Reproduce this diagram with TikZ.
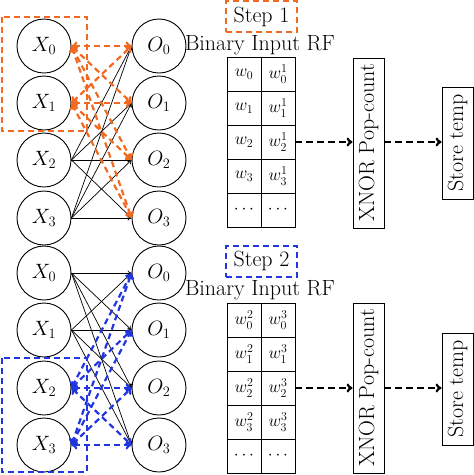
\documentclass[tikz,border=0pt]{standalone}
\usetikzlibrary{arrows.meta}
\definecolor{myorange}{HTML}{F26A21}
\definecolor{myblue}{HTML}{2236E0}
\begin{document}
\begin{tikzpicture}[x=1pt,y=-1pt,
  every node/.style={font=\fontsize{22}{26}\selectfont},
  neuron/.style={draw,circle,line width=0.9pt,minimum size=54pt,inner sep=0pt},
  cell/.style={draw,line width=0.9pt,minimum width=34pt,minimum height=34pt,inner sep=0pt,outer sep=0pt,font=\fontsize{18}{20}\selectfont},
  vbox/.style={draw,line width=0.9pt,rotate=90,minimum height=31pt,inner sep=1pt},
  solidcon/.style={line width=0.7pt,-{To[length=4pt,width=5pt]}},
  odash/.style={myorange,line width=2.2pt,dash pattern=on 6pt off 4pt,{To[length=6pt,width=9pt]}-{To[length=6pt,width=9pt]}},
  bdash/.style={myblue,line width=2.2pt,dash pattern=on 6pt off 4pt,{To[length=6pt,width=9pt]}-{To[length=6pt,width=9pt]}},
  blackdash/.style={line width=2.2pt,dash pattern=on 7pt off 4pt,-{To[length=6pt,width=9pt]}},
  stepbox/.style={draw,line width=2pt,dash pattern=on 6pt off 4pt,minimum width=71pt,minimum height=31pt,inner sep=0pt}
]
\useasboundingbox (0,0) rectangle (474,475);
% ---- neurons ----
\foreach \i/\y in {0/46,1/103,2/160,3/218}{
  \node[neuron] (xa\i) at (44,\y) {$X_\i$};
  \node[neuron] (oa\i) at (159,\y) {$O_\i$};
}
\foreach \i/\y in {0/273,1/330,2/388,3/445}{
  \node[neuron] (xb\i) at (44,\y) {$X_\i$};
  \node[neuron] (ob\i) at (159,\y) {$O_\i$};
}
% solid connectors
\foreach \s in {2,3}{\foreach \t in {0,1,2,3}{\draw[solidcon] (xa\s.east) -- (oa\t.west);}}
\foreach \s in {0,1}{\foreach \t in {0,1,2,3}{\draw[solidcon] (xb\s.east) -- (ob\t.west);}}
% dashed connectors
\foreach \s in {0,1}{\foreach \t in {0,1,2,3}{\draw[odash] (xa\s.east) -- (oa\t.west);}}
\foreach \s in {2,3}{\foreach \t in {0,1,2,3}{\draw[bdash] (xb\s.east) -- (ob\t.west);}}
% group rectangles
\coordinate (ga1) at (2,17); \coordinate (ga2) at (87,131);
\draw[myorange,line width=2.2pt,dash pattern=on 6pt off 4pt] (ga1) rectangle (ga2);
\coordinate (gb1) at (2,358); \coordinate (gb2) at (87,472);
\draw[myblue,line width=2.2pt,dash pattern=on 6pt off 4pt] (gb1) rectangle (gb2);
% steps
\node[stepbox,myorange,text=black] (step1) at (261.5,16.5) {Step 1};
\node[stepbox,myblue,text=black] (step2) at (261.5,261) {Step 2};
\node (bira) at (260,45) {Binary Input RF};
\node (birb) at (260,290) {Binary Input RF};
% tables
\foreach \r/\y/\a/\b in {0/74/$w_0$/$w_0^1$,1/108/$w_1$/$w_1^1$,2/142/$w_2$/$w_2^1$,3/176/$w_3$/$w_3^1$,4/210/$\cdots$/$\cdots$}{
  \node[cell] (ta\r l) at (244,\y) {\a};
  \node[cell] (ta\r r) at (278,\y) {\b};
}
\foreach \r/\y/\a/\b in {0/320/$w_0^2$/$w_0^3$,1/354/$w_1^2$/$w_1^3$,2/388/$w_2^2$/$w_2^3$,3/422/$w_3^2$/$w_3^3$,4/456/$\cdots$/$\cdots$}{
  \node[cell] (tb\r l) at (244,\y) {\a};
  \node[cell] (tb\r r) at (278,\y) {\b};
}
% right boxes
\node[vbox,minimum width=170pt] (xnora) at (368.5,143) {XNOR Pop-count};
\node[vbox,minimum width=112pt] (storea) at (457.5,143) {Store temp};
\node[vbox,minimum width=170pt] (xnorb) at (368.5,388) {XNOR Pop-count};
\node[vbox,minimum width=112pt] (storeb) at (457.5,389) {Store temp};
\draw[blackdash] (ta2r.east) -- (xnora.north |- ta2r.east);
\draw[blackdash] (xnora.south |- ta2r.east) -- (storea.north |- ta2r.east);
\draw[blackdash] (tb2r.east) -- (xnorb.north |- tb2r.east);
\draw[blackdash] (xnorb.south |- tb2r.east) -- (storeb.north |- tb2r.east);
\end{tikzpicture}
\end{document}
